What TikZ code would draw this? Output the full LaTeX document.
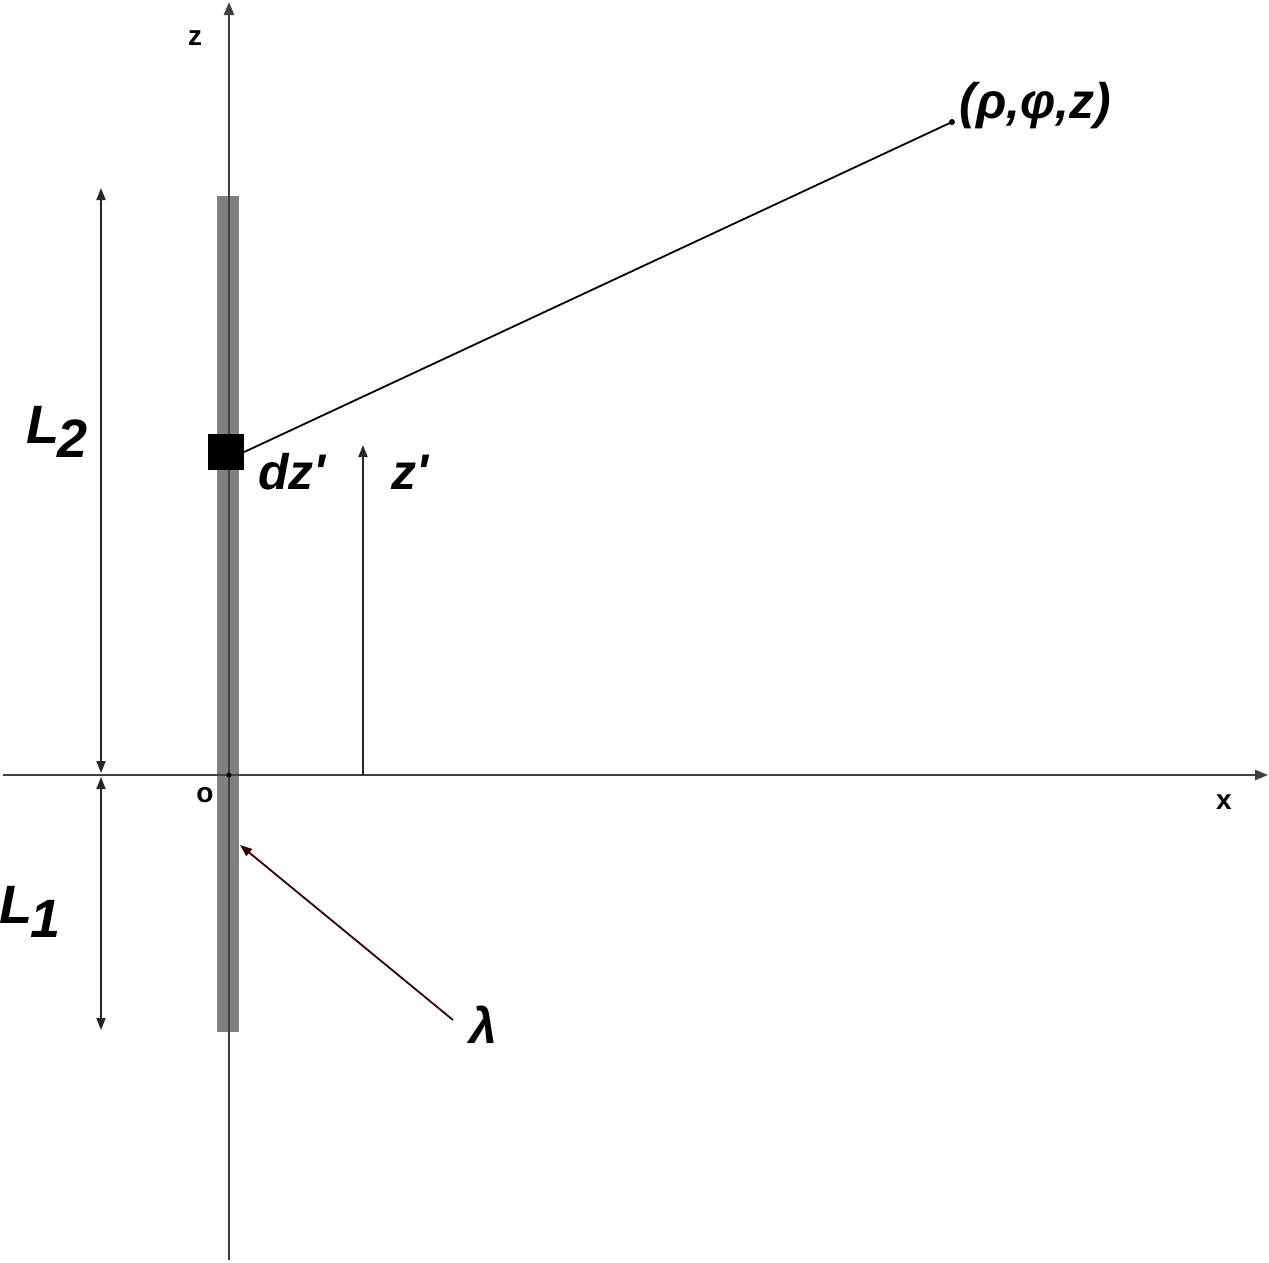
\documentclass[tikz,border=0pt]{standalone}
\usepackage{fontspec}
\setmainfont{Liberation Sans}
\usetikzlibrary{arrows.meta}
\begin{document}
\begin{tikzpicture}[x=1pt,y=-1pt,
  axis/.style={draw=black!75,line width=2.4pt,-{Triangle[length=13pt,width=10pt]}},
  dim/.style={draw=black!85,line width=1.8pt,{Triangle[length=12pt,width=9pt]}-{Triangle[length=12pt,width=9pt]}},
  onearrow/.style={draw=black!85,line width=1.8pt,-{Triangle[length=12pt,width=9pt]}},
  small/.style={font=\fontsize{28}{30}\selectfont\bfseries},
  big/.style={font=\fontsize{50}{56}\selectfont\bfseries\itshape}]
\useasboundingbox (0,0) rectangle (1269,1262);
% bar
\fill[black!50] (217,196) rectangle (239,1032);
% axes
\coordinate (zb) at (229,1260);
\coordinate (zt) at (229,2);
\coordinate (xl) at (3,775);
\coordinate (xr) at (1268,775);
\draw[axis] (zb) -- (zt);
\draw[axis] (xl) -- (xr);
\fill (229,775) circle (2.5pt);
% labels
\node[small] (zlab) at (195,38) {z};
\node[small] (olab) at (205,795) {o};
\node[small] (xlab) at (1224,802) {x};
% element
\node[fill=black,minimum size=36pt,inner sep=0pt] (sq) at (226,452) {};
\coordinate (P) at (952,122);
\draw[line width=1.8pt] (sq.east) -- (P);
\fill (P) circle (3pt);
\node[big,anchor=west] (plab) at (956,106) {(ρ,φ,z)};
\node[big] (dzlab) at (292,472) {dz\textquotesingle};
\node[big] (zplab) at (410,472) {z\textquotesingle};
% z' arrow
\coordinate (zpb) at (363,775);
\coordinate (zpt) at (363,445);
\draw[onearrow] (zpb) -- (zpt);
% L2, L1
\coordinate (l2t) at (101,188);
\coordinate (l2b) at (101,773);
\coordinate (l1t) at (101,777);
\coordinate (l1b) at (101,1030);
\draw[dim] (l2t) -- (l2b);
\draw[dim] (l1t) -- (l1b);
\node[font=\fontsize{54}{60}\selectfont\bfseries\itshape] (L2) at (57,432) {L\kern-2pt\raisebox{-14pt}{2}};
\node[font=\fontsize{54}{60}\selectfont\bfseries\itshape] (L1) at (30,912) {L\kern-2pt\raisebox{-14pt}{1}};
% lambda
\coordinate (la) at (453,1020);
\coordinate (lb) at (240,845);
\draw[onearrow,draw=black!80!red] (la) -- (lb);
\node[big] (lam) at (483,1025) {λ};
\end{tikzpicture}
\end{document}
